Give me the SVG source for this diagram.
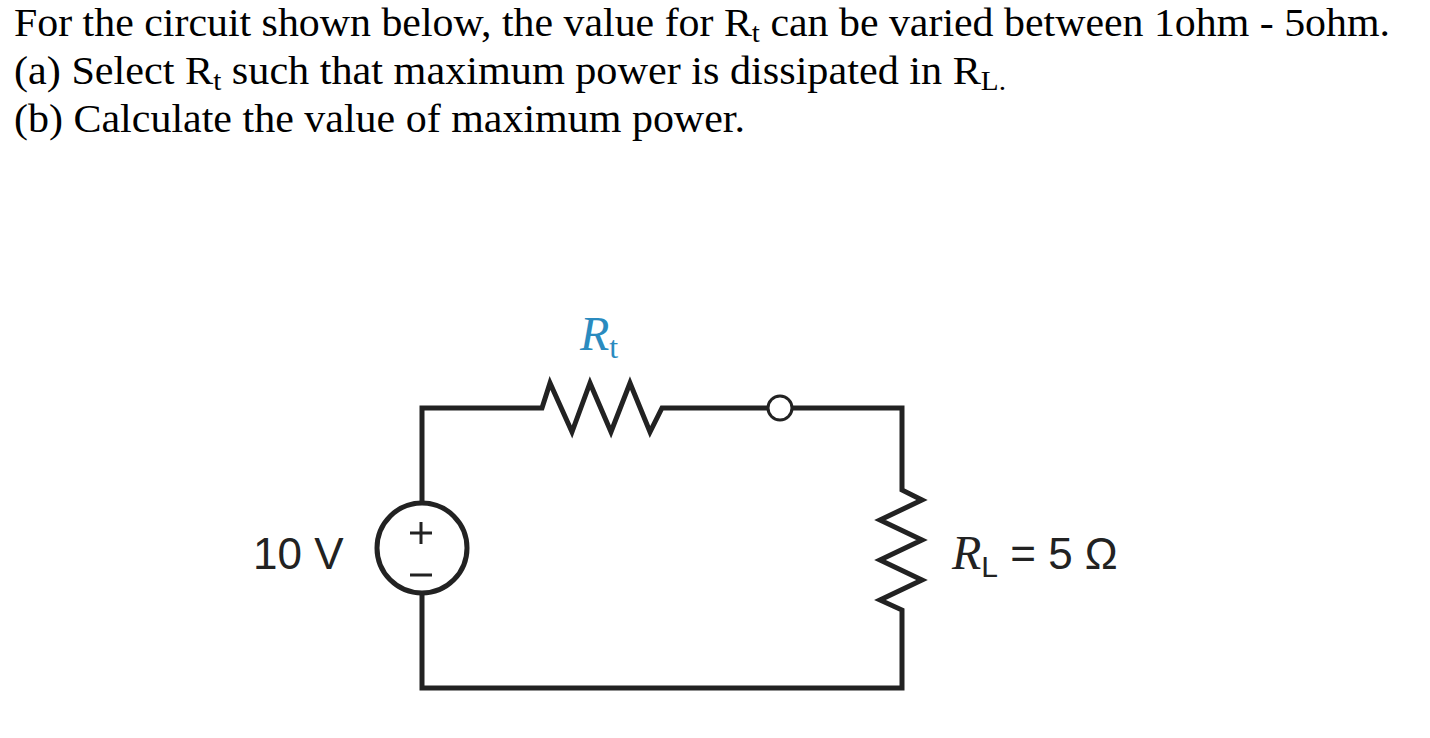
<svg xmlns="http://www.w3.org/2000/svg" width="1430" height="738" viewBox="0 0 1430 738">
<style>
.t{font-family:"Liberation Serif",serif;font-size:39px;fill:#000}
.w{fill:none;stroke:#222;stroke-width:5;stroke-linejoin:miter}
.s{font-family:"Liberation Sans",sans-serif;font-size:44px;fill:#222}
</style>
<rect width="1430" height="738" fill="#fff"/>
<g id="text">
<text class="t" x="14" y="36" textLength="1376" lengthAdjust="spacingAndGlyphs">For the circuit shown below, the value for R<tspan font-size="27" dy="6">t</tspan><tspan dy="-6"> can be varied between 1ohm - 5ohm.</tspan></text>
<text class="t" x="14" y="84" textLength="992" lengthAdjust="spacingAndGlyphs">(a) Select R<tspan font-size="27" dy="6">t</tspan><tspan dy="-6"> such that maximum power is dissipated in R</tspan><tspan font-size="27" dy="6">L.</tspan></text>
<text class="t" x="14" y="132" textLength="731" lengthAdjust="spacingAndGlyphs">(b) Calculate the value of maximum power.</text>
</g>
<g id="connectors">
<path class="w" d="M422,503 V408 H542 L550,383 L572,432 L590,383 L611,432 L630,383 L650,432 L662,408 H767"/>
<path class="w" d="M793,408 H902 V490 L922,500 L880,520 L922,540 L880,560 L922,580 L880,600 L902,610 V688 H422 V593"/>
</g>
<g id="source">
<circle cx="422" cy="548" r="45" fill="#fff" stroke="#222" stroke-width="5"/>
<path d="M410,533 H432 M421,522 V544 M410,575 H432" stroke="#222" stroke-width="3"/>
<text class="s" x="253" y="569">10 V</text>
</g>
<g id="node"><circle cx="780" cy="408" r="12" fill="#fff" stroke="#222" stroke-width="3"/></g>
<g id="Rt"><text x="580" y="350" font-family="Liberation Serif,serif" font-style="italic" font-size="48" fill="#2a8bbf">R<tspan font-style="normal" font-size="32" dy="8">t</tspan></text></g>
<g id="RL"><text class="s" x="952" y="569"><tspan font-family="Liberation Serif,serif" font-style="italic" font-size="48">R</tspan><tspan font-size="30" dy="8">L</tspan><tspan dy="-8"> = 5 Ω</tspan></text></g>
</svg>
